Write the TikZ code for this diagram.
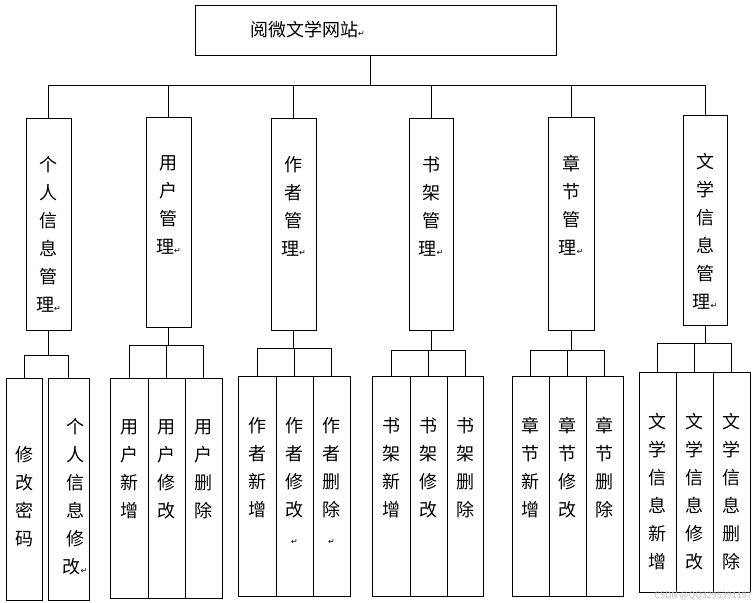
\documentclass[tikz,border=0pt]{standalone}
\usepackage{fontspec}
\setmainfont{Noto Sans CJK SC}
\newfontfamily\symf{DejaVu Sans}
\begin{document}
\begin{tikzpicture}[x=1pt,y=-1pt,
  box/.style={draw,line width=0.8pt,inner sep=0pt},
  vt/.style={anchor=north,align=center,inner sep=0pt,font=\fontsize{18}{28}\selectfont},
  ln/.style={line width=0.8pt}]
\useasboundingbox (0,0) rectangle (754,602);
\newcommand\pmk{{\symf\fontsize{8}{8}\selectfont ↵}}
% top
\node[box,minimum width=361pt,minimum height=50pt] (top) at (375.5,30) {};
\coordinate (tb) at (370,55);
\node[anchor=west,font=\fontsize{18}{22}\selectfont,inner sep=0pt] (toptxt) at (250,30) {阅微文学网站\pmk};
% level 2
\newcommand\mybox[7]{\node[box,minimum width=#4pt,minimum height=#5pt,anchor=north] (#1) at (#2,#3) {};
  \node[vt] (#1t) at ([yshift=-#6]#1.north) {#7};}
\mybox{a}{48.5}{118}{45}{212}{38}{个\\人\\信\\息\\管\\理\pmk}
\mybox{b}{168.5}{117}{45}{210}{38}{用\\户\\管\\理\pmk}
\mybox{c}{293.5}{118}{45}{212}{38}{作\\者\\管\\理\pmk}
\mybox{d}{431}{118}{44}{212}{38}{书\\架\\管\\理\pmk}
\mybox{e}{571}{117}{46}{213}{38}{章\\节\\管\\理\pmk}
\mybox{f}{705}{115}{44}{210}{38}{文\\学\\信\\息\\管\\理\pmk}
\foreach \n in {a,b,c,d,e,f}{\draw[ln] (tb) -- ++(0,30) -| (\n.north);}
% level 3
\mybox{a1}{24}{378}{36}{222}{68}{修\\改\\密\\码}
\node[box,minimum width=41pt,minimum height=222pt,anchor=north] (a2) at (68.5,378) {};
\node[vt] (a2t) at (75,418) {个\\人\\信\\息\\修\\改\pmk};
\mybox{b1}{129}{378}{38}{220}{41}{用\\户\\新\\增}
\mybox{b2}{166.5}{378}{37}{220}{41}{用\\户\\修\\改}
\mybox{b3}{203.5}{378}{37}{220}{41}{用\\户\\删\\除}
\mybox{c1}{257}{376}{38}{220}{41}{作\\者\\新\\增}
\mybox{c2}{294.5}{376}{37}{220}{41}{作\\者\\修\\改\\\pmk}
\mybox{c3}{331.5}{376}{37}{220}{41}{作\\者\\删\\除\\\pmk}
\mybox{d1}{391}{376}{38}{220}{41}{书\\架\\新\\增}
\mybox{d2}{428.5}{376}{37}{220}{41}{书\\架\\修\\改}
\mybox{d3}{465}{376}{36}{220}{41}{书\\架\\删\\除}
\mybox{e1}{530.5}{376}{37}{220}{41}{章\\节\\新\\增}
\mybox{e2}{567.5}{376}{37}{220}{41}{章\\节\\修\\改}
\mybox{e3}{604.5}{376}{37}{220}{41}{章\\节\\删\\除}
\mybox{f1}{657.5}{372}{37}{220}{41}{文\\学\\信\\息\\新\\增}
\mybox{f2}{694.5}{372}{37}{220}{41}{文\\学\\信\\息\\修\\改}
\mybox{f3}{731.5}{372}{37}{220}{41}{文\\学\\信\\息\\删\\除}
\foreach \p/\h in {a/25,b/18,c/18,d/20,e/20,f/18}{
  \draw[ln] (\p.south) -- ++(0,\h) -| (\p1.north);
  \draw[ln] (\p.south) -- ++(0,\h) -| (\p2.north);}
\foreach \p/\h in {b/18,c/18,d/20,e/20,f/18}{\draw[ln] (\p.south) -- ++(0,\h) -| (\p3.north);}
\node[anchor=south east,font=\fontsize{9}{9}\selectfont,text=gray!50,inner sep=2pt] (wm) at (754,602) {CSDN @QQ3295391197};
\end{tikzpicture}
\end{document}
